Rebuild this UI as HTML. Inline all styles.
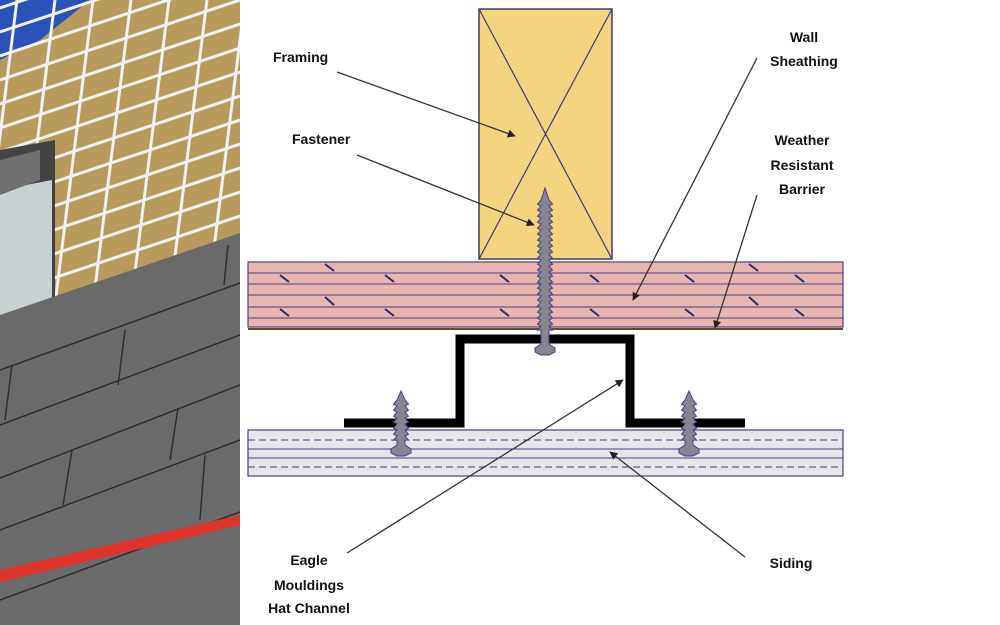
<!DOCTYPE html>
<html><head><meta charset="utf-8"><style>
html,body{margin:0;padding:0;background:#fff;width:1000px;height:625px;overflow:hidden}
svg{display:block;position:absolute;left:0;top:0}
text{font-family:"Liberation Sans",sans-serif;font-weight:bold;font-size:14px;fill:#111}
</style></head><body>
<svg id="s" width="1000" height="625" viewBox="0 0 1000 625" xmlns="http://www.w3.org/2000/svg">
<defs>
<marker id="ah" viewBox="0 0 10 10" refX="9" refY="5" markerWidth="13" markerHeight="8" orient="auto" markerUnits="userSpaceOnUse"><path d="M0,0 L10,5 L0,10 z" fill="#222"/></marker>
<clipPath id="pc"><rect x="0" y="0" width="240" height="625"/></clipPath>
</defs>
<g clip-path="url(#pc)">
<rect x="0" y="0" width="240" height="625" fill="#b89a5c"/>
<polygon points="0,0 90,0 40,40 0,60" fill="#2b52b8"/>
<g stroke="#f2f2f2" stroke-width="3" id="grid"></g>
<polygon points="0,150 55,140 55,315 0,320" fill="#444"/>
<polygon points="0,190 52,180 52,310 0,316" fill="#c9d2d2"/>
<polygon points="0,160 40,150 40,180 0,195" fill="#707070"/>
<polygon points="0,315 240,233 240,625 0,625" fill="#6a6a6a"/>
<g stroke="#2e2e2e" stroke-width="1.5" fill="none">
<line x1="0" y1="370" x2="240" y2="283"/>
<line x1="0" y1="425" x2="240" y2="335"/>
<line x1="0" y1="478" x2="240" y2="385"/>
<line x1="0" y1="530" x2="240" y2="440"/>
<line x1="0" y1="600" x2="240" y2="512"/>
<line x1="12" y1="365" x2="5" y2="420"/>
<line x1="125" y1="330" x2="118" y2="385"/>
<line x1="72" y1="450" x2="63" y2="505"/>
<line x1="178" y1="408" x2="170" y2="460"/>
<line x1="228" y1="245" x2="224" y2="285"/>
<line x1="205" y1="455" x2="200" y2="520"/>
</g>
<polygon points="0,570 240,515 240,525 0,582" fill="#e0322a"/>
</g>
<rect x="479" y="9" width="133" height="250" fill="#f5d47f" stroke="#3b3a7a" stroke-width="1.5"/>
<line x1="479" y1="9" x2="612" y2="259" stroke="#3b3a7a" stroke-width="1.2"/>
<line x1="612" y1="9" x2="479" y2="259" stroke="#3b3a7a" stroke-width="1.2"/>
<rect x="248" y="262" width="595" height="65" fill="#e9b5b0" stroke="#4a3f80" stroke-width="1.2"/>
<g stroke="#4a3f80" stroke-width="1.1">
<line x1="248" y1="273" x2="843" y2="273"/><line x1="248" y1="284" x2="843" y2="284"/>
<line x1="248" y1="295" x2="843" y2="295"/><line x1="248" y1="307" x2="843" y2="307"/>
<line x1="248" y1="318" x2="843" y2="318"/>
</g>
<g stroke="#2a2a70" stroke-width="2" id="ticks"></g>
<line x1="248" y1="329" x2="843" y2="329" stroke="#6b4a1f" stroke-width="2"/>
<rect x="248" y="430" width="595" height="46" fill="#e6e6ea" stroke="#4a3f80" stroke-width="1.2"/>
<g stroke="#4a3f80" stroke-width="1.1">
<line x1="248" y1="449" x2="843" y2="449"/><line x1="248" y1="458" x2="843" y2="458"/>
<line x1="248" y1="440" x2="843" y2="440" stroke-dasharray="7,4"/>
<line x1="248" y1="467" x2="843" y2="467" stroke-dasharray="7,4"/>
</g>
<path d="M344,423 L460,423 L460,339 L630,339 L630,423 L745,423" fill="none" stroke="#000" stroke-width="9"/>
<g id="screws"></g>
<g stroke="#333" stroke-width="1.3" fill="none" marker-end="url(#ah)">
<line x1="337" y1="72" x2="515" y2="136"/>
<line x1="357" y1="155" x2="534" y2="225"/>
<line x1="757" y1="58" x2="633" y2="300"/>
<line x1="757" y1="195" x2="715" y2="328"/>
<line x1="347" y1="553" x2="623" y2="380"/>
<line x1="745" y1="557" x2="610" y2="452"/>
</g>
<text x="273" y="62">Framing</text>
<text x="292" y="144">Fastener</text>
<text x="804" y="42" text-anchor="middle">Wall</text>
<text x="804" y="66" text-anchor="middle">Sheathing</text>
<text x="802" y="145" text-anchor="middle">Weather</text>
<text x="802" y="170" text-anchor="middle">Resistant</text>
<text x="802" y="194" text-anchor="middle">Barrier</text>
<text x="309" y="565" text-anchor="middle">Eagle</text>
<text x="309" y="590" text-anchor="middle">Mouldings</text>
<text x="309" y="613" text-anchor="middle">Hat Channel</text>
<text x="791" y="568" text-anchor="middle">Siding</text>
</svg>
<script>
var NS="http://www.w3.org/2000/svg";
function el(p,n,a){var e=document.createElementNS(NS,n);for(var k in a)e.setAttribute(k,a[k]);document.getElementById(p).appendChild(e);}
for(var i=-10;i<30;i++){var y=i*24;el("grid","line",{x1:0,y1:y+80,x2:240,y2:y});}
for(var i=-1;i<7;i++){var x=i*38+55;el("grid","line",{x1:x,y1:0,x2:x-40,y2:320});}
[[262,273,[325,749]],[273,284,[280,385,500,590,685,795]],[295,307,[325,749]],[307,318,[280,385,500,590,685,795]]].forEach(function(r){r[2].forEach(function(x){el("ticks","line",{x1:x,y1:r[0]+2,x2:x+9,y2:r[1]-2});});});
function screw(cx,tip,top,bot,head){
 var w=4,tw=7.5,st=6,pts=[];
 for(var y=top;y<bot;y+=st){pts.push([cx-w,y]);pts.push([cx-tw,y+st*0.7]);}
 pts.push([cx-w,bot]);
 var L=[[cx,tip]].concat(pts);
 L.push([cx-w,head-8]);L.push([cx-10,head-4]);L.push([cx-10,head]);L.push([cx-4,head+3]);L.push([cx+4,head+3]);L.push([cx+10,head]);L.push([cx+10,head-4]);L.push([cx+w,head-8]);
 var R=pts.map(function(q){return [2*cx-q[0],q[1]];}).reverse();
 L=L.concat(R);
 el("screws","polygon",{points:L.map(function(q){return q.join(",")}).join(" "),fill:"#858590",stroke:"#4a3f80","stroke-width":1});
}
screw(545,188,200,330,352);
screw(401,391,400,440,453);
screw(689,391,400,440,453);
</script>
</body></html>
